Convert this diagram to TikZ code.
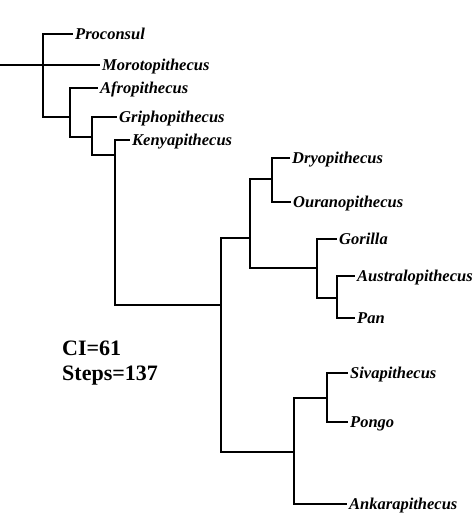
\documentclass[tikz,border=0pt]{standalone}
\usepackage{fontspec}
\setmainfont{Liberation Serif}
\usepackage{tikz}

\begin{document}
\begin{tikzpicture}[x=1pt,y=-1pt,
	branch/.style={line width=1.6pt},
	strong/.style={line width=2.6pt},
	taxon/.style={anchor=west, inner sep=2pt, text height=10pt, text depth=0pt,
		font=\fontsize{16.5}{18}\selectfont\bfseries\itshape}]
	\useasboundingbox (0,0) rectangle (474,515);
	
	% inner nodes
	\coordinate (stem) at (0,65);
	\coordinate (n0) at (43,65);
	\coordinate (n1) at (70,117);
	\coordinate (n2) at (92,137);
	\coordinate (n3) at (115,155);
	\coordinate (n4) at (221,305);
	\coordinate (n5) at (250,238);
	\coordinate (n6) at (272,179);
	\coordinate (n7) at (317,268);
	\coordinate (n8) at (337,298);
	\coordinate (n9) at (294,452);
	\coordinate (n10) at (327,398);
	
	% taxa
	\node[taxon] (proc) at (73,34) {Proconsul};
	\node[taxon] (moro) at (100,65) {Morotopithecus};
	\node[taxon] (afro) at (98,88) {Afropithecus};
	\node[taxon] (grip) at (117,117) {Griphopithecus};
	\node[taxon] (keny) at (130,140) {Kenyapithecus};
	\node[taxon] (dryo) at (290,158) {Dryopithecus};
	\node[taxon] (oura) at (291,202) {Ouranopithecus};
	\node[taxon] (gori) at (337,239) {Gorilla};
	\node[taxon] (aust) at (355,276) {Australopithecus};
	\node[taxon] (pan) at (355,318) {Pan};
	\node[taxon] (siva) at (348,373) {Sivapithecus};
	\node[taxon] (pong) at (348,422) {Pongo};
	\node[taxon] (anka) at (347,504) {Ankarapithecus};
	
	\draw[branch] (stem) to (n0);
	\draw[branch] (n0) |- (proc.west);
	\draw[branch] (n0) |- (moro.west);
	\draw[strong] (n0) |- (n1);
	\draw[branch] (n1) |- (afro.west);
	\draw[strong] (n1) |- (n2);
	\draw[strong] (n2) |- (grip.west);
	\draw[strong] (n2) |- (n3);
	\draw[strong] (n3) |- (keny.west);
	\draw[strong] (n3) |- (n4);
	\draw[branch] (n4) |- (n5);
	\draw[branch] (n4) |- (n9);
	\draw[branch] (n5) |- (n6);
	\draw[branch] (n5) |- (n7);
	\draw[branch] (n6) |- (dryo.west);
	\draw[branch] (n6) |- (oura.west);
	\draw[strong] (n7) |- (gori.west);
	\draw[branch] (n7) |- (n8);
	\draw[branch] (n8) |- (aust.west);
	\draw[branch] (n8) |- (pan.west);
	\draw[strong] (n9) |- (n10);
	\draw[strong] (n9) |- (anka.west);
	\draw[strong] (n10) |- (siva.west);
	\draw[branch] (n10) |- (pong.west);
	
	\node[anchor=base west, inner sep=0pt, align=left,
		font=\fontsize{22}{25}\selectfont\bfseries] (stats) at (62,380) {CI=61\\Steps=137};
\end{tikzpicture}
\end{document}
